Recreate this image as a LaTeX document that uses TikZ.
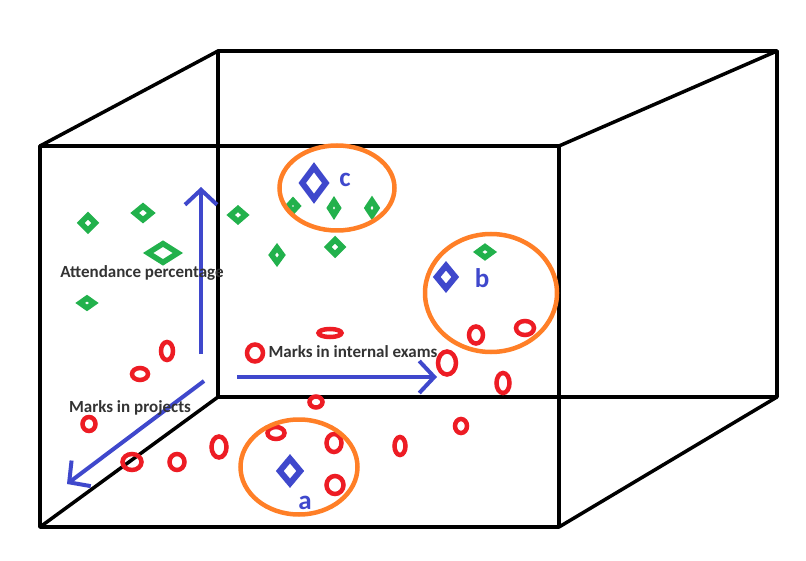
\documentclass[tikz,border=0pt]{standalone}
\usepackage{fontspec}
\setmainfont{Carlito}
\usetikzlibrary{shapes.geometric,arrows.meta}
\definecolor{paintblue}{RGB}{63,72,204}
\definecolor{paintgreen}{RGB}{34,177,76}
\definecolor{paintred}{RGB}{237,28,36}
\definecolor{paintorange}{RGB}{255,127,39}

\begin{document}
\begin{tikzpicture}[x=1pt,y=-1pt,
	edge/.style={line width=3.5pt,line cap=round,line join=round},
	axis/.style={draw=paintblue,line width=4pt,-{Straight Barb[length=15pt,width=32pt]}},
	greenpt/.style={diamond,draw=paintgreen,line width=5.5pt,inner sep=0pt},
	redpt/.style={ellipse,draw=paintred,line width=4.5pt,inner sep=0pt},
	bluept/.style={diamond,draw=paintblue,line width=6pt,inner sep=0pt},
	cluster/.style={ellipse,draw=paintorange,line width=4.5pt,inner sep=0pt},
	axislabel/.style={font=\fontsize{17}{20}\selectfont\bfseries,text=black!80,inner sep=0pt,anchor=base},
	pointlabel/.style={font=\fontsize{27}{30}\selectfont\bfseries,text=paintblue,inner sep=0pt,anchor=base}]
					\useasboundingbox (0,0) rectangle (806,561);
					\coordinate (ftl) at (40,146);
					\coordinate (ftr) at (559,146);
					\coordinate (fbr) at (559,527);
					\coordinate (fbl) at (40,527);
					\coordinate (btl) at (218,51);
					\coordinate (btr) at (777,51);
					\coordinate (bbr) at (777,397);
					\coordinate (bbl) at (218,397);
					\draw[edge] (ftl) -- (ftr) -- (fbr) -- (fbl) -- cycle;
					\draw[edge] (btl) -- (btr) -- (bbr) -- (bbl) -- cycle;
					\draw[edge] (ftl) -- (btl);
					\draw[edge] (ftr) -- (btr);
					\draw[edge] (fbr) -- (bbr);
					\draw[edge] (fbl) -- (bbl);
					\foreach \x/\y/\w/\h [count=\i] in {88/223/17/17, 143/213/19/16, 163/253/32/21,
						87/303/16/12, 238/215/17/15, 293/206/12/13, 334/208/11/16, 372/208/12/17,
						277/255/13/17, 335/247/17/17, 485/252/17/13}
						\node[greenpt,minimum width=\w,minimum height=\h] (g\i) at (\x,\y) {};
					\foreach \x/\y/\w/\h [count=\i] in {330/333/23/8, 167/351/12/18, 140/374/16/12,
						255/353/16/17, 447/363/18/23, 476/335/14/17, 525/328/18/14, 503/383/13/20,
						316/402/13/11, 89/424/13/14, 132/462/19/16, 177/462/15/16, 219/447/15/21,
						276/433/17/12, 334/443/15/18, 335/485/17/18, 400/446/11/18, 461/426/12/14}
						\node[redpt,minimum width=\w,minimum height=\h] (r\i) at (\x,\y) {};
					\node[bluept,minimum width=26,minimum height=34] (pc) at (314,183) {};
					\node[bluept,minimum width=21,minimum height=25] (pb) at (446,277) {};
					\node[bluept,minimum width=23,minimum height=27] (pa) at (290,471) {};
					\node[pointlabel] (lc) at (345,187) {c};
					\node[pointlabel] (lb) at (482,288) {b};
					\node[pointlabel] (la) at (305,509) {a};
					\node[cluster,minimum width=115,minimum height=85] (cc) at (337,188) {};
					\node[cluster,minimum width=132,minimum height=118] (cb) at (491,293) {};
					\node[cluster,minimum width=117,minimum height=95] (ca) at (299,467) {};
					\coordinate (o1) at (201,354);
					\coordinate (yend) at (201,187);
					\coordinate (o2) at (237,377);
					\coordinate (xend) at (437,377);
					\coordinate (o3) at (204,381);
					\coordinate (zend) at (67,484);
					\draw[axis] (o1) -- (yend);
					\draw[axis] (o2) -- (xend);
					\draw[axis] (o3) -- (zend);
					\node[axislabel] (ly) at (142,278) {Attendance percentage};
					\node[axislabel] (lx) at (353,357) {Marks in internal exams};
					\node[axislabel] (lz) at (130,412) {Marks in projects};
					\end{tikzpicture}
\end{document}
